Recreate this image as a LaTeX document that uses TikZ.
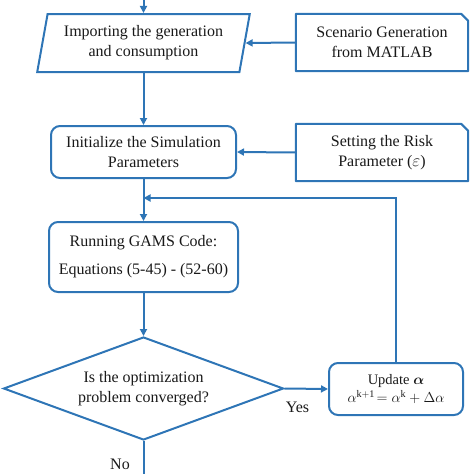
\documentclass[tikz,border=0pt]{standalone}
\usepackage{fontspec}
\setmainfont{Liberation Serif}
\usetikzlibrary{shapes.geometric,arrows.meta}
\definecolor{fcblue}{RGB}{46,117,182}
\tikzset{
  every node/.style={font=\fontsize{16}{20}\selectfont, align=center, text=black!90},
  line/.style={draw=fcblue, line width=2pt},
  arr/.style={line, -{Triangle[length=7pt,width=7pt]}},
  base/.style={draw=fcblue, line width=2pt, inner sep=0pt},
  rbox/.style={base, rectangle, rounded corners=9pt},
  cbox/.style={inner sep=0pt, rectangle},
  outline/.style={draw=fcblue, line width=2pt, line join=round},
  pgram/.style={base, trapezium, trapezium left angle=76, trapezium right angle=104, trapezium stretches=true},
  decision/.style={base, diamond, aspect=2.7}
}
\begin{document}
\begin{tikzpicture}[x=1pt,y=-1pt]
\useasboundingbox (0,0) rectangle (474,474);
\coordinate (top) at (143.5,0);
\node[pgram, minimum width=213pt, minimum height=58pt] (par) at (143.5,43) {Importing the generation\\and consumption};
\node[cbox, minimum width=172pt, minimum height=57pt] (scen) at (382,42.5) {Scenario Generation\\from MATLAB};
\draw[outline] (scen.north west) -- ([xshift=-7pt]scen.north east) -- ([yshift=-7pt]scen.north east) -- (scen.south east) -- (scen.south west) -- cycle;
\node[rbox, minimum width=185pt, minimum height=52pt] (init) at (143.5,152) {Initialize the Simulation\\Parameters};
\node[cbox, minimum width=172pt, minimum height=57pt] (risk) at (382,152.5) {Setting the Risk\\Parameter ($\varepsilon$)};
\draw[outline] (risk.north west) -- ([xshift=-7pt]risk.north east) -- ([yshift=-7pt]risk.north east) -- (risk.south east) -- (risk.south west) -- cycle;
\node[rbox, minimum width=189pt, minimum height=70pt] (gams) at (143.5,257) {Running GAMS Code:\\[8pt]Equations (5-45) - (52-60)};
\node[decision, minimum width=280pt, minimum height=103pt] (dec) at (143.5,388.5) {Is the optimization\\problem converged?};
\node[rbox, minimum width=134pt, minimum height=52pt, font=\fontsize{14.5}{18}\selectfont] (upd) at (396,389) {Update {\boldmath$\alpha$}\\$\alpha^{\mathrm{k+1}}\!=\alpha^{\mathrm{k}}+\Delta\alpha$};
\coordinate (fb) at (143.5,198);
\coordinate (bot) at (143.5,474);
\draw[arr] (top) -- (par);
\draw[arr] (scen.west) -- (par.east);
\draw[arr] (par) -- (init);
\draw[arr] (risk.west) -- (init.east);
\draw[arr] (init) -- (gams);
\draw[arr] (gams) -- (dec);
\draw[arr] (upd.north) |- (fb);
\draw[arr] (dec.east) -- (upd.west) node[pos=0.3, below=9pt] (yes) {Yes};
\draw[line] (dec.south) -- (bot);
\node (no) at (120,464) {No};
\end{tikzpicture}
\end{document}
